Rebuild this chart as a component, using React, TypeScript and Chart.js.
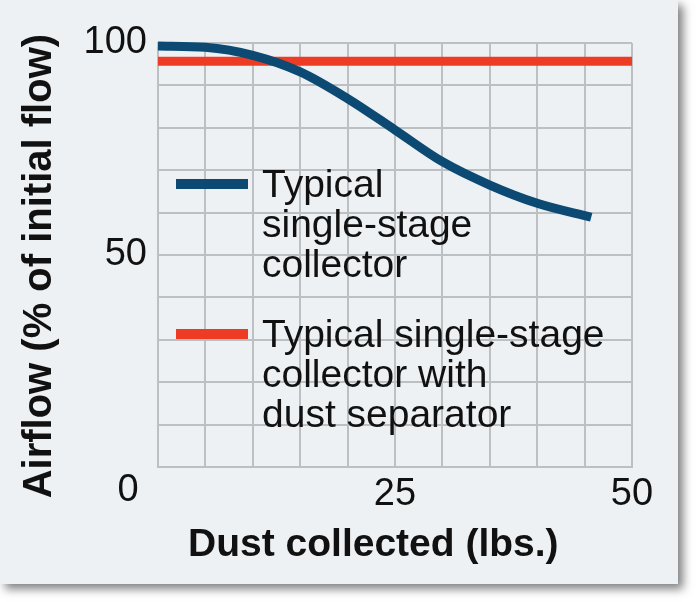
import { useEffect, useRef } from 'react'
import Chart from 'chart.js/auto'

// values
const dustLbs = [0, 5, 10, 15, 20, 25, 30, 35, 40, 45.7]
const singleStage = [99.3, 99.0, 97.1, 93.2, 86.9, 79.5, 72.0, 66.5, 62.2, 58.9]
const separatorLbs = [0, 50]
const withSeparator = [95.7, 95.7]

const xLabelTicks = [25, 50]
const yLabelTicks = [50, 100]
const originLabel = '0'

const seriesNames = [
  ['Typical', 'single-stage', 'collector'],
  ['Typical single-stage', 'collector with', 'dust separator'],
]
const seriesColors = ['#0c4a74', '#ee3b24']

const FONT = '"Liberation Sans", Arial, sans-serif'
const GRID = '#bcc0c3'

const legendPlugin = {
  id: 'insideLegend',
  afterDraw(chart: Chart) {
    const { ctx, chartArea } = chart
    const xScale = chart.scales.x
    ctx.save()
    // "0" sits in the corner, left of the origin
    ctx.font = `38px ${FONT}`
    ctx.fillStyle = '#111'
    ctx.textAlign = 'center'
    ctx.textBaseline = 'top'
    ctx.fillText(originLabel, xScale.getPixelForValue(0) - 30, chartArea.bottom + 5)

    ctx.font = `39px ${FONT}`
    const blocks = [chartArea.top + 141, chartArea.top + 291]
    blocks.forEach((top, i) => {
      ctx.strokeStyle = seriesColors[i]
      ctx.lineWidth = 10
      ctx.lineCap = 'butt'
      ctx.beginPath()
      ctx.moveTo(chartArea.left + 18, top)
      ctx.lineTo(chartArea.left + 90, top)
      ctx.stroke()

      ctx.textAlign = 'left'
      ctx.textBaseline = 'alphabetic'
      seriesNames[i].forEach((line, j) => {
        ctx.fillText(line, chartArea.left + 104, top + 13 + j * 40)
      })
    })
    ctx.restore()
  },
}

function App() {
  const canvasRef = useRef<HTMLCanvasElement | null>(null)

  useEffect(() => {
    if (!canvasRef.current) return undefined

    const chart = new Chart(canvasRef.current, {
      type: 'line',
      data: {
        datasets: [
          {
            label: seriesNames[0].join(' '),
            data: dustLbs.map((x, i) => ({ x, y: singleStage[i] })),
            borderColor: seriesColors[0],
            borderWidth: 9,
            borderCapStyle: 'butt',
            pointRadius: 0,
            cubicInterpolationMode: 'monotone',
            clip: false,
          },
          {
            label: seriesNames[1].join(' '),
            data: separatorLbs.map((x, i) => ({ x, y: withSeparator[i] })),
            borderColor: seriesColors[1],
            borderWidth: 9,
            borderCapStyle: 'butt',
            pointRadius: 0,
            clip: false,
          },
        ],
      },
      options: {
        responsive: true,
        maintainAspectRatio: false,
        animation: false,
        events: [],
        layout: { padding: { left: 0, top: 43, right: 68, bottom: 0 } },
        plugins: {
          legend: { display: false },
          tooltip: { enabled: false },
        },
        scales: {
          x: {
            type: 'linear',
            min: 0,
            max: 50,
            afterFit: (scale) => {
              scale.height = 135
            },
            grid: { color: GRID, lineWidth: 2, drawTicks: false },
            border: { color: GRID, width: 2 },
            ticks: {
              stepSize: 5,
              autoSkip: false,
              maxRotation: 0,
              padding: 5,
              color: '#111',
              font: { family: FONT, size: 38 },
              callback: (v) => (xLabelTicks.includes(Number(v)) ? String(v) : ''),
            },
            title: {
              display: true,
              text: 'Dust collected (lbs.)    ',
              color: '#111',
              font: { family: FONT, size: 39, weight: 'bold' },
              padding: { top: 0, bottom: 33 },
            },
          },
          y: {
            min: 0,
            max: 100,
            afterFit: (scale) => {
              scale.width = 158
            },
            grid: { color: GRID, lineWidth: 2, drawTicks: false },
            border: { color: GRID, width: 2 },
            ticks: {
              stepSize: 10,
              autoSkip: false,
              padding: 11,
              color: '#111',
              font: { family: FONT, size: 38 },
              callback: (v) => (yLabelTicks.includes(Number(v)) ? String(v) : ''),
            },
            title: {
              display: true,
              text: 'Airflow (% of initial flow)  ',
              color: '#111',
              font: { family: FONT, size: 40, weight: 'bold' },
              padding: { top: 16, bottom: 0 },
            },
          },
        },
      },
      plugins: [legendPlugin],
    })

    return () => {
      chart.destroy()
    }
  }, [])

  return (
    <div style={{ position: 'fixed', left: 0, top: 0, width: 700, height: 602, background: '#fff' }}>
      <div
        style={{
          position: 'absolute',
          left: 0,
          top: 0,
          width: 678,
          height: 584,
          background: '#edf1f4',
          boxShadow: '5px 5px 9px rgba(0, 0, 0, 0.5)',
        }}
      />
      <div style={{ position: 'absolute', left: 0, top: 0, width: 700, height: 602 }}>
        <canvas ref={canvasRef} />
      </div>
    </div>
  )
}

export default App
